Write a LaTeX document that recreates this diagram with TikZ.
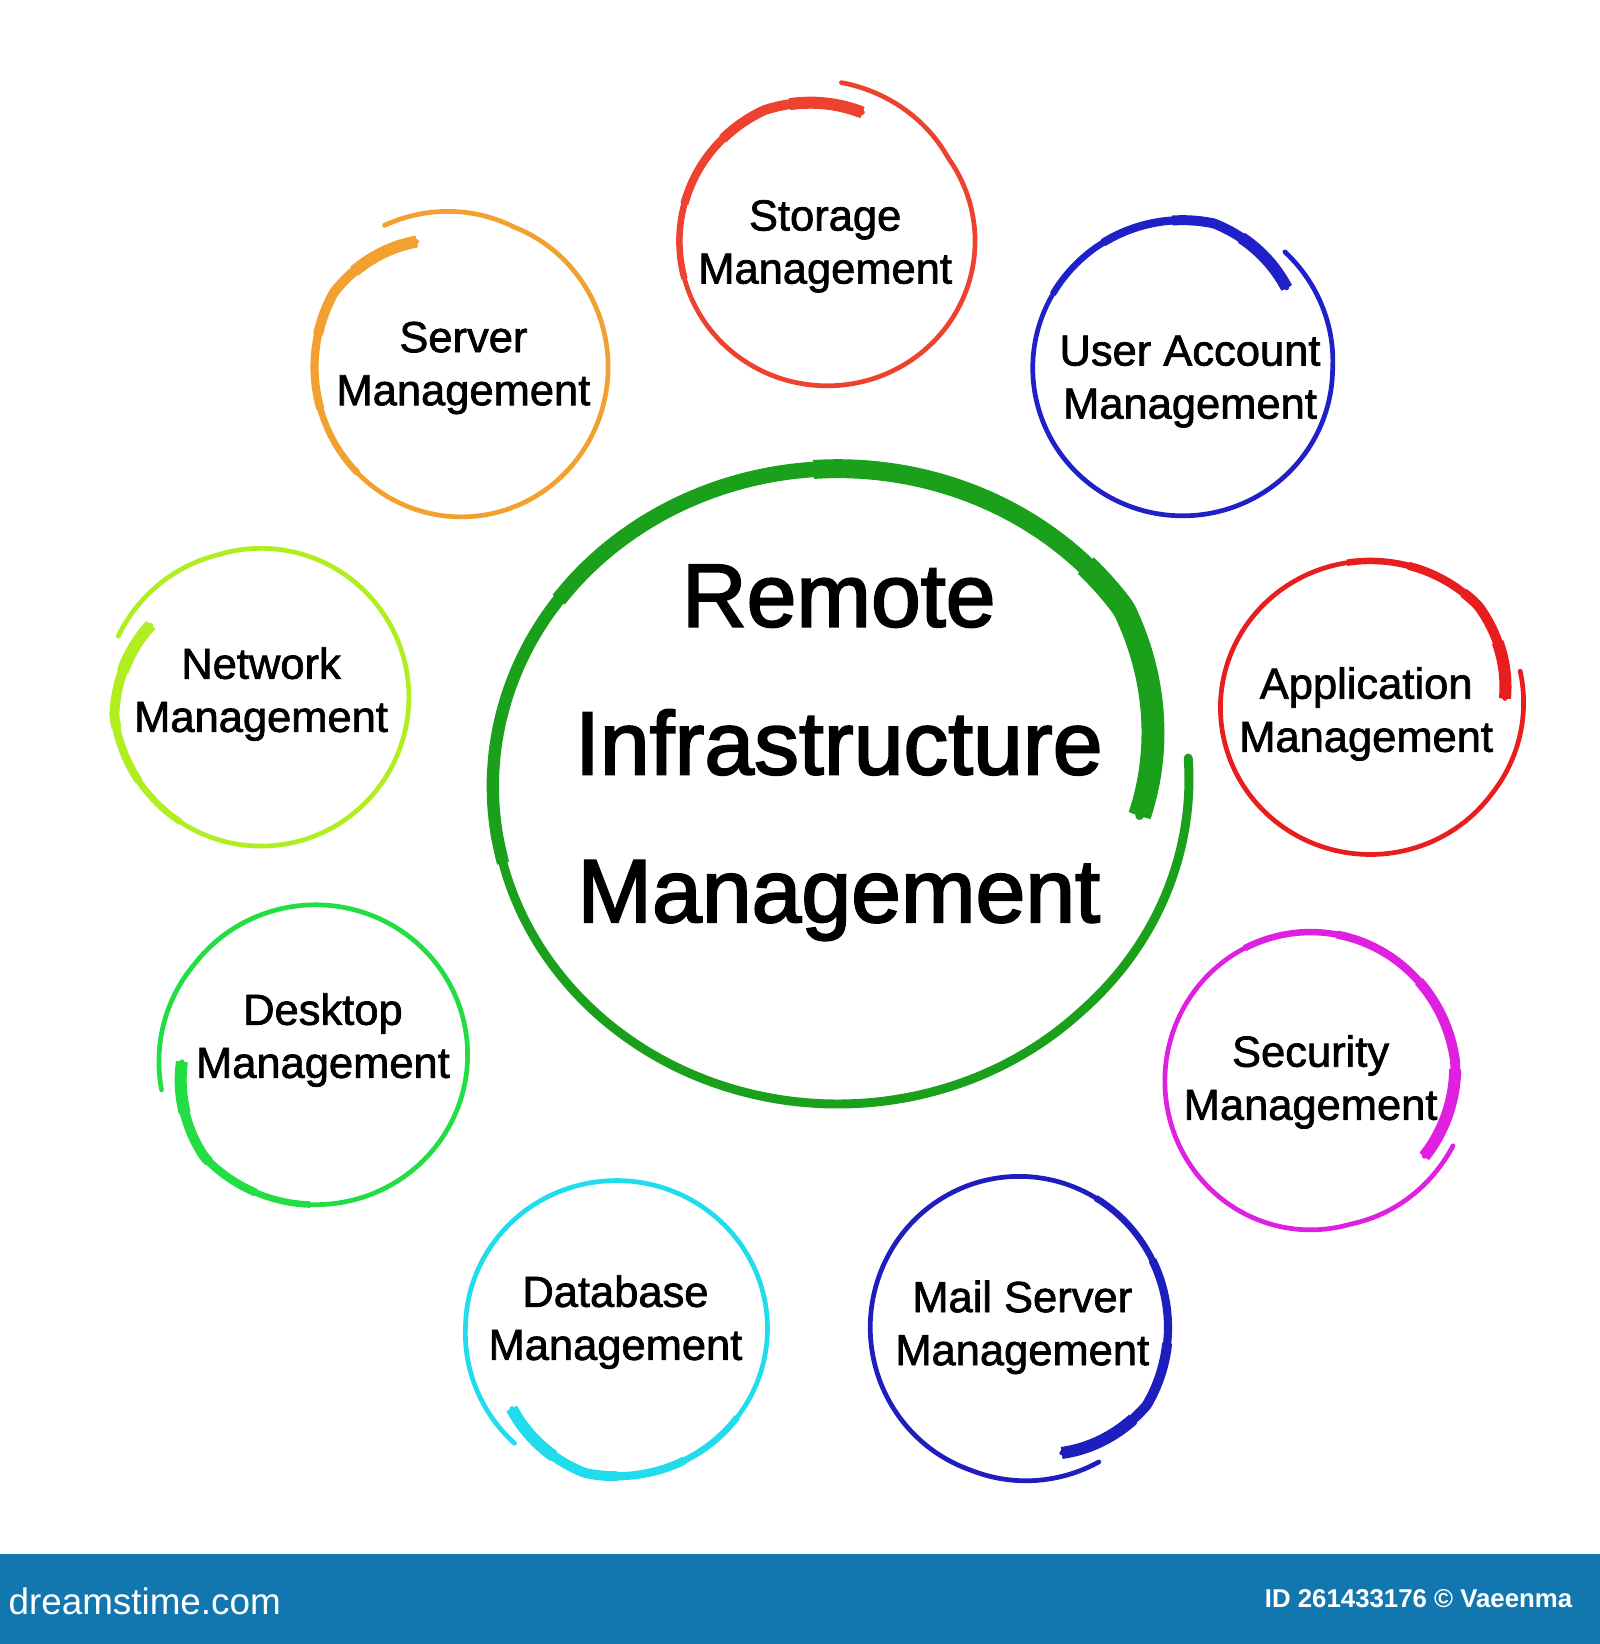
\documentclass[tikz,border=0pt]{standalone}
\usepackage{fontspec}
\setmainfont{Liberation Sans}
\newfontfamily\lblfont{Liberation Sans}[FakeBold=1.6]
\newfontfamily\bigfont{Liberation Sans}[FakeBold=2.2]

\definecolor{rimgreen}{RGB}{26,160,26}
\definecolor{storagered}{RGB}{238,66,48}
\definecolor{serverorange}{RGB}{242,160,48}
\definecolor{useracctblue}{RGB}{32,32,200}
\definecolor{appred}{RGB}{232,30,30}
\definecolor{securitymag}{RGB}{224,32,224}
\definecolor{mailblue}{RGB}{30,30,190}
\definecolor{dbcyan}{RGB}{32,220,236}
\definecolor{desktopgreen}{RGB}{34,221,68}
\definecolor{netlime}{RGB}{176,238,34}
\definecolor{footblue}{RGB}{18,119,175}

\tikzset{
	ring/.style={line cap=round, line join=round, smooth},
	lbl/.style={align=center, inner sep=0pt, font=\lblfont\fontsize{11.8}{14.4}\selectfont},
	biglbl/.style={align=center, inner sep=0pt, font=\bigfont\fontsize{24.3}{40.1}\selectfont},
	foot/.style={white, inner sep=0pt}
}

\begin{document}
\begin{tikzpicture}[x=0.1mm, y=0.1mm, declare function={rr(\u)=1+\dout*max(0,1-\u/50)-\din*max(0,1-(\sweep-\u)/40);}]
		\useasboundingbox (0,0) rectangle (1526,1568);
		
		%rings
		\foreach \cx/\cy/\rx/\ry/\start/\sweep/\dout/\din/\thk/\w/\clr in {
			799/818/329/303/5/371/0.02/0.12/200/1.9/rimgreen,
			789/1338/141/138/85/370/0.1/0.08/120/1/storagered,
			440/1218/140/143/119/369/0.08/0.11/115/1/serverorange,
			1128/1217/143/141/49/371/0.04/0.12/112/1/useracctblue,
			1307/893/143/140/14/370/0.03/0.1/95/1/appred,
			1250/537/139/142/-24/369/0.07/0.07/150/1/securitymag,
			972/302/142/144/-59/372/0.04/0.12/130/1/mailblue,
			588/301/144/141/229/371/0.03/0.12/105/1/dbcyan,
			301/562/145/143/193/370/0.04/0.12/85/1/desktopgreen,
			249/903/141/142/157/370/0.05/0.11/90/1/netlime}{
			\draw[ring, color=\clr, line width=\w*0.45mm, domain=0:\sweep, samples=140]
				plot ({\cx+\rx*rr(\x)*cos(\start-\x)}, {\cy+\ry*rr(\x)*sin(\start-\x)});
			%brush gets heavier towards its end
			\foreach \f/\lw in {1/0.62, 0.75/0.78, 0.5/0.95, 0.25/1.15}{
				\draw[ring, color=\clr, line width=\w*\lw mm, line cap=butt, domain=\sweep-\thk*\f:\sweep, samples=40]
					plot ({\cx+\rx*rr(\x)*cos(\start-\x)}, {\cy+\ry*rr(\x)*sin(\start-\x)});
			}
		}
		
		%labels
		\node[biglbl] (rim) at (800,850) {Remote\\Infrastructure\\Management};
		\node[lbl] (storage) at (787,1333) {Storage\\Management};
		\node[lbl] (server) at (442,1217) {Server\\Management};
		\node[lbl] (useracct) at (1135,1204) {User Account\\Management};
		\node[lbl] (application) at (1303,887) {Application\\Management};
		\node[lbl] (security) at (1250,536) {Security\\Management};
		\node[lbl] (mailsrv) at (975,302) {Mail Server\\Management};
		\node[lbl] (database) at (587,307) {Database\\Management};
		\node[lbl] (desktop) at (308,576) {Desktop\\Management};
		\node[lbl] (network) at (249,906) {Network\\Management};
		
		%footer
		\fill[footblue] (0,0) rectangle (1526,86);
		\node[foot, font=\fontsize{10}{12}\selectfont] (site) at (138,41) {dreamstime.com};
		\node[foot, font=\bfseries\fontsize{7}{8.4}\selectfont] (imgid) at (1353,43) {ID 261433176 © Vaeenma};
\end{tikzpicture}
\end{document}
